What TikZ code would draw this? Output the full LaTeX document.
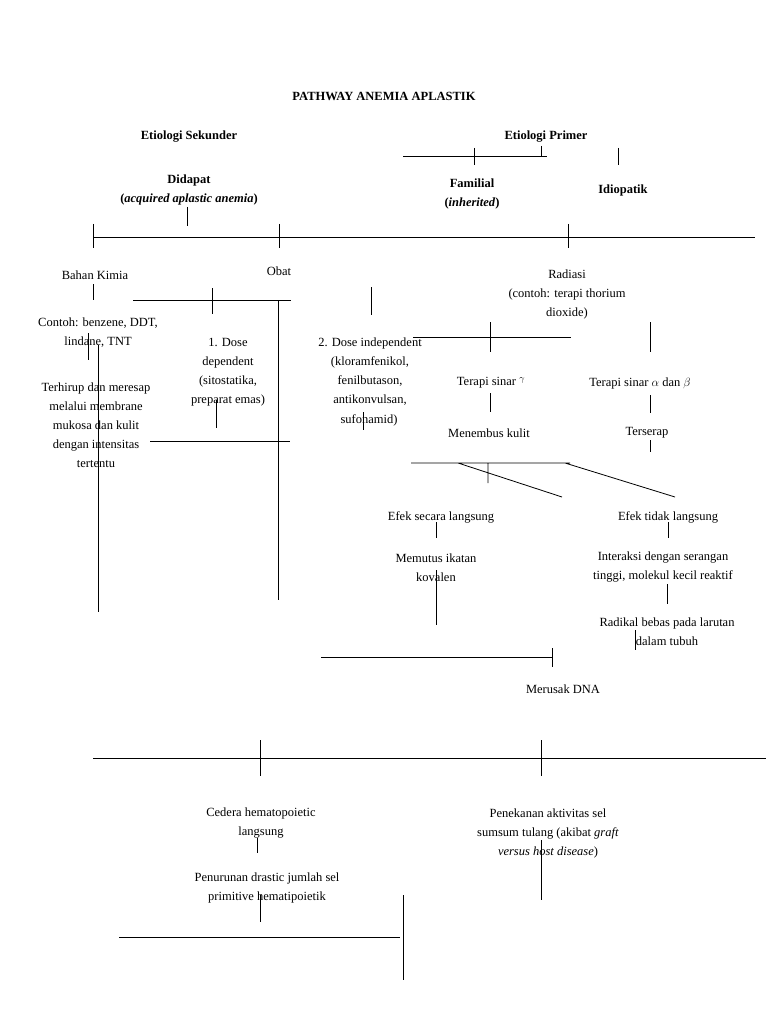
\documentclass[tikz,border=0pt]{standalone}
\usepackage{fontspec}
\setmainfont{Liberation Serif}
\begin{document}
\begin{tikzpicture}[x=1pt,y=-1pt,
 t/.style={font=\fontsize{12.5}{19}\selectfont,align=center,inner sep=0pt},
 b/.style={t,font=\fontsize{12.5}{19}\selectfont\bfseries},
 ln/.style={line width=0.8pt}]
\useasboundingbox (0,0) rectangle (768,1024);
\fill[white] (0,0) rectangle (768,1024);
\node[b] (title) at (384,96) {PATHWAY ANEMIA APLASTIK};
\node[b] (es) at (189,137) {Etiologi Sekunder};
\node[b] (ep) at (546,137) {Etiologi Primer};
\node[b] (did) at (189,190) {Didapat\\(\textit{acquired aplastic anemia})};
\node[b] (fam) at (472,194) {Familial\\(\textit{inherited})};
\node[b] (idio) at (623,190) {Idiopatik};
\node[t] (bk) at (95,275) {Bahan Kimia};
\node[t] (obat) at (279,271) {Obat};
\node[t] (rad) at (567,294) {Radiasi\\(contoh: terapi thorium\\dioxide)};
\node[t] (cth) at (98,333) {Contoh: benzene, DDT,\\lindane, TNT};
\node[t] (dd) at (228,372) {1. Dose\\dependent\\(sitostatika,\\preparat emas)};
\node[t] (di) at (370,372) {2. Dose independent\\(kloramfenikol,\\fenilbutason,\\antikonvulsan,};
\begin{scope}
\clip (300,412) rectangle (440,427);
\node[t] (suf) at (369,420) {sufonamid)};
\end{scope}
\node[t] (ter) at (96,425) {Terhirup dan meresap\\melalui membrane\\mukosa dan kulit\\dengan intensitas\\tertentu};
\node[t] (tsg) at (491,383) {Terapi sinar $^{\gamma}$};
\node[t] (tsab) at (640,383) {Terapi sinar $\alpha$ dan $\beta$};
\node[t] (mk) at (489,433) {Menembus kulit};
\node[t] (tsp) at (647,433) {Terserap};
\node[t] (esl) at (441,517) {Efek secara langsung};
\node[t] (etl) at (668,517) {Efek tidak langsung};
\node[t] (mik) at (436,568) {Memutus ikatan\\kovalen};
\node[t] (int) at (663,567) {Interaksi dengan serangan\\tinggi, molekul kecil reaktif};
\node[t] (rbp) at (667,632) {Radikal bebas pada larutan\\dalam tubuh};
\node[t] (dna) at (563,689) {Merusak DNA};
\node[t] (ced) at (261,823) {Cedera hematopoietic\\langsung};
\node[t] (pen) at (548,833) {Penekanan aktivitas sel\\sumsum tulang (akibat \textit{graft}\\\textit{versus host disease})};
\node[t] (pdr) at (267,888) {Penurunan drastic jumlah sel\\primitive hematipoietik};
\begin{scope}[ln]
\draw (403,156)--(547,156) (474,148)--(474,165) (541,146)--(541,156) (618,148)--(618,165);
\draw (187,207)--(187,226);
\draw (93,237)--(755,237) (93,224)--(93,248) (279,224)--(279,248) (568,224)--(568,248);
\draw (93,284)--(93,300);
\draw (133,300)--(291,300) (212,288)--(212,314) (371,287)--(371,315);
\draw (413,337)--(571,337) (490,322)--(490,352) (650,322)--(650,352);
\draw (88,333)--(88,360);
\draw (216,400)--(216,428) (363,412)--(363,430);
\draw (150,441)--(290,441);
\draw (98,345)--(98,612) (278,300)--(278,600);
\draw (490,393)--(490,412) (650,395)--(650,413) (650,440)--(650,452);
\draw (411,463)--(570,463) (458,463)--(562,497) (565,463)--(675,497) (488,463)--(488,483);
\draw (436,522)--(436,538) (668,522)--(668,538);
\draw (436,570)--(436,625) (667,584)--(667,604) (635,630)--(635,650);
\draw (321,657)--(552,657) (552,648)--(552,667);
\draw (93,758)--(766,758) (260,740)--(260,776) (541,740)--(541,776);
\draw (257,838)--(257,853) (541,840)--(541,900) (260,895)--(260,922);
\draw (119,937)--(400,937) (403,895)--(403,980);
\end{scope}
\end{tikzpicture}
\end{document}
